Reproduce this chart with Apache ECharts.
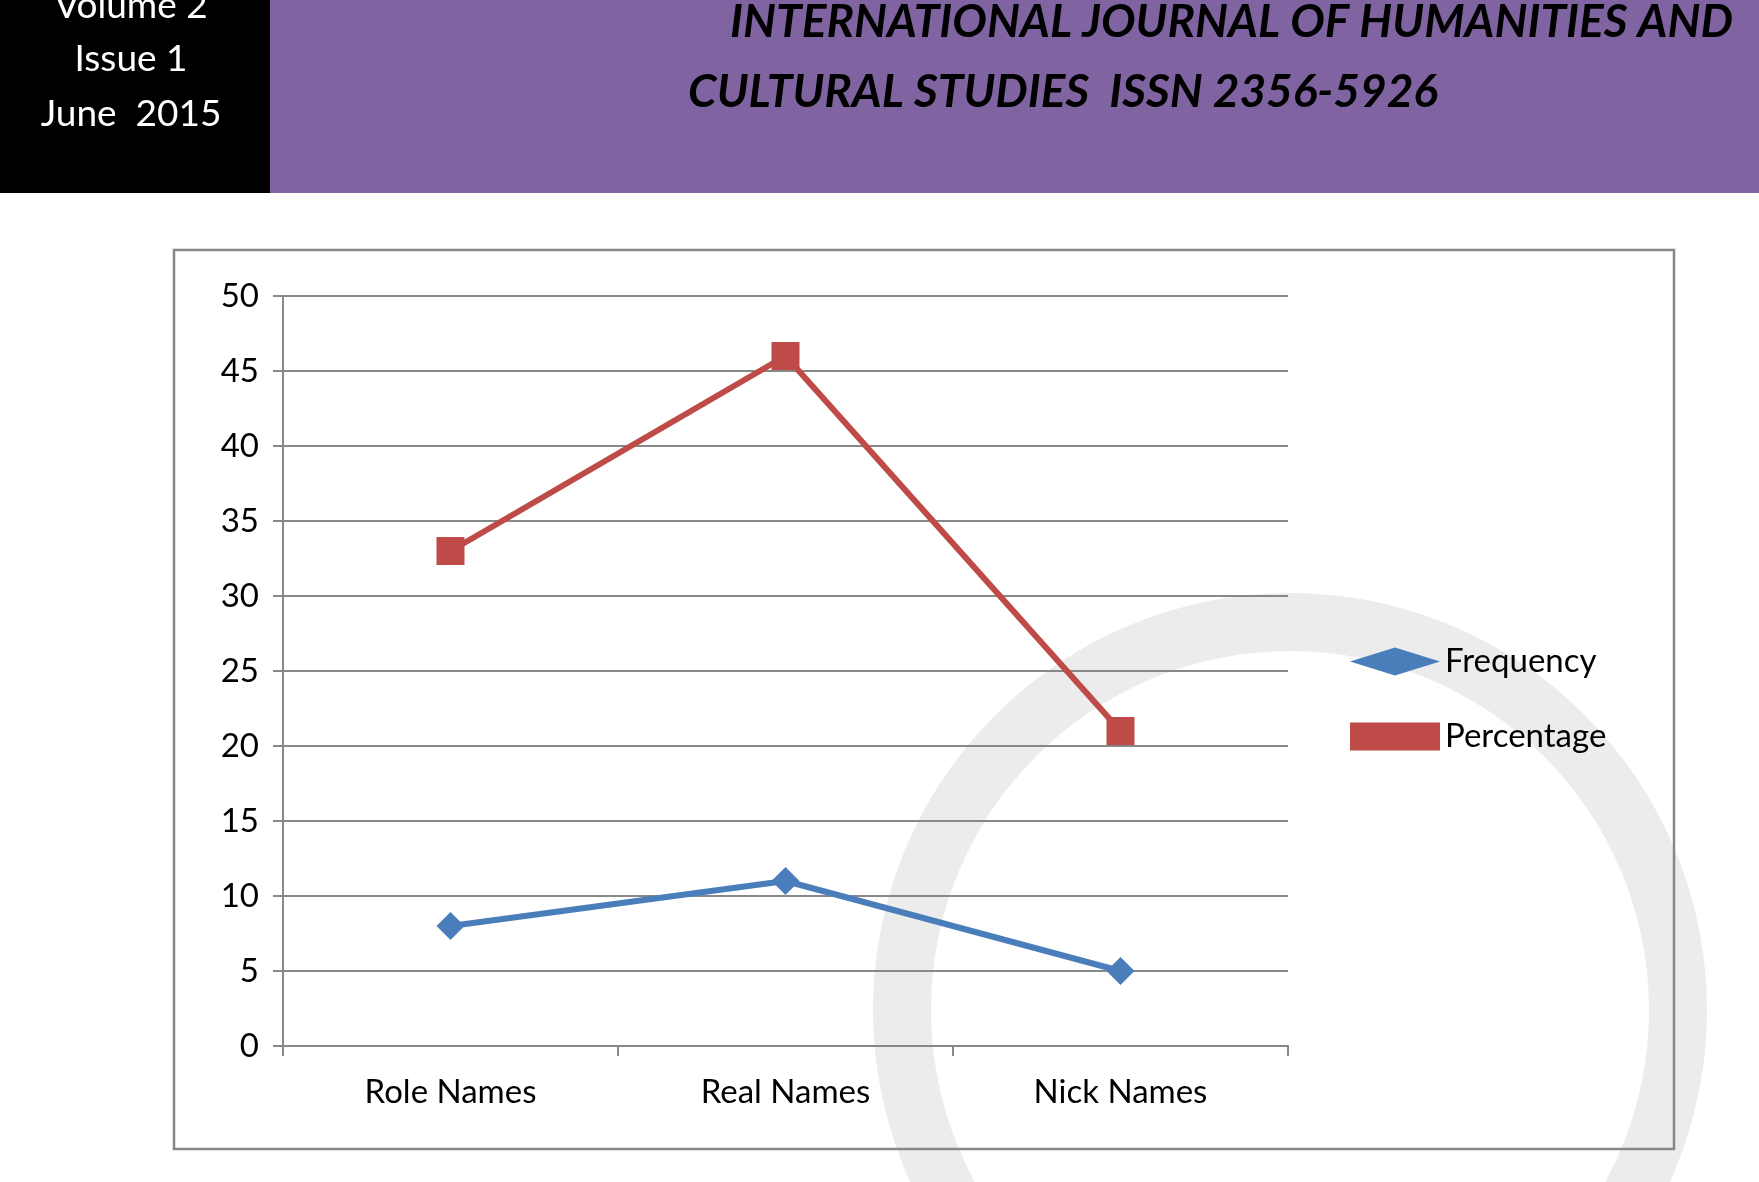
<!DOCTYPE html>
<html><head><meta charset="utf-8">
<script src="https://cdn.jsdelivr.net/npm/echarts@6/dist/echarts.min.js"></script>
<style>html,body{margin:0;padding:0;background:#fff}#c{width:1759px;height:1182px}</style>
</head><body><div id="c"></div>
<script>
const categories = ['Role Names', 'Real Names', 'Nick Names'];
const frequency = [8, 11, 5];
const percentage = [33, 46, 21];
const yTicks = {min: 0, max: 50, interval: 5};
const F = 'Lato, "Open Sans", sans-serif';
const chart = echarts.init(document.getElementById('c'));
chart.setOption({
  animation: false,
  graphic: [
    {type:'sector', z:-10, shape:{cx:1290, cy:1010, r:417, r0:359}, style:{fill:'#ececec'}},
    {type:'rect', shape:{x:0,y:0,width:1759,height:193}, style:{fill:'#8064a2'}},
    {type:'rect', shape:{x:0,y:0,width:270,height:193}, style:{fill:'#000'}},
    {type:'text', style:{text:'Volume 2', x:131, y:6, fill:'#fff', font:'37px '+F, textAlign:'center', textVerticalAlign:'middle'}},
    {type:'text', style:{text:'Issue 1', x:131, y:59, fill:'#fff', font:'37px '+F, textAlign:'center', textVerticalAlign:'middle'}},
    {type:'text', style:{text:'June  2015', x:131, y:114, fill:'#fff', font:'37px '+F, textAlign:'center', textVerticalAlign:'middle'}},
    {type:'text', style:{text:'INTERNATIONAL JOURNAL OF HUMANITIES AND', x:1733, y:22, fill:'#000', font:'italic bold 46px '+F, textAlign:'right', textVerticalAlign:'middle'}},
    {type:'text', style:{text:'CULTURAL STUDIES  ISSN 2356-5926', x:1063, y:92, fill:'#000', font:'italic bold 46px '+F, textAlign:'center', textVerticalAlign:'middle'}},
    {type:'rect', shape:{x:174,y:250,width:1500,height:899}, style:{fill:'none', stroke:'#888', lineWidth:2.5}}
  ],
  grid: {left:283, top:296, width:1005, height:750},
  legend: {
    orient:'vertical', left:1345, top:640, itemGap:42, itemWidth:90, itemHeight:28,
    textStyle:{fontFamily:F, fontSize:33, color:'#000'},
    data:[{name:'Frequency', icon:'diamond'},{name:'Percentage', icon:'rect'}]
  },
  xAxis: {
    type:'category', data:categories, boundaryGap:true,
    axisLine:{lineStyle:{color:'#888', width:2}},
    axisTick:{show:true, length:10, lineStyle:{color:'#888', width:2}},
    axisLabel:{fontFamily:F, fontSize:33, color:'#000', margin:30}
  },
  yAxis: {
    type:'value', min:yTicks.min, max:yTicks.max, interval:yTicks.interval,
    axisLine:{show:true, lineStyle:{color:'#888', width:2}},
    axisTick:{show:true, length:10, lineStyle:{color:'#888', width:2}},
    splitLine:{lineStyle:{color:'#888', width:2}},
    axisLabel:{fontFamily:F, fontSize:33, color:'#000', margin:24}
  },
  series: [
    {name:'Frequency', type:'line', data:frequency, symbol:'diamond', symbolSize:28,
     lineStyle:{color:'#4a7ebb', width:6}, itemStyle:{color:'#4a7ebb'}},
    {name:'Percentage', type:'line', data:percentage, symbol:'rect', symbolSize:28,
     lineStyle:{color:'#be4b48', width:6}, itemStyle:{color:'#be4b48'}}
  ]
});
</script></body></html>
